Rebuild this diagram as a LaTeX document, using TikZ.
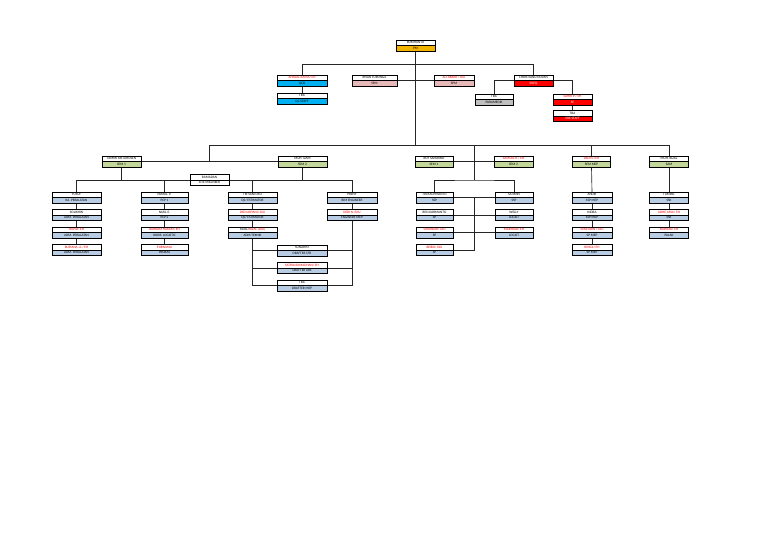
\documentclass[tikz,border=0pt]{standalone}
\usepackage{fontspec}
\setmainfont{Carlito}
\definecolor{cgold}{HTML}{F2B400}
\definecolor{ccyan}{HTML}{00B0F0}
\definecolor{cpink}{HTML}{E6B8B7}
\definecolor{cred}{HTML}{FF0000}
\definecolor{cgrey}{HTML}{BFBFBF}
\definecolor{cgreen}{HTML}{C4D79B}
\definecolor{cblue}{HTML}{B8CCE4}
\newcommand{\rd}[1]{\textcolor{cred}{#1}}
\pgfdeclarelayer{bg}
\pgfsetlayers{bg,main}
\tikzset{
  nm/.style={draw=black, line width=0.55pt, fill=white, minimum height=5.6pt,
    inner sep=0pt, outer sep=0pt, anchor=north,
    font=\fontsize{3.45}{3.8}\selectfont, text height=2.4pt, text depth=0.6pt},
  conn/.style={line width=0.65pt, draw=black!85}
}
\newcommand{\orgbox}[7]{%
  \node[nm, minimum width=#4pt] (#1) at (#2,-#3) {#5};
  \node[nm, minimum width=#4pt, fill=#7] (#1r) at (#1.south) {#6};}
\begin{document}
\begin{tikzpicture}[x=1pt,y=1pt]
\useasboundingbox (0,0) rectangle (768,-543);
% top
\orgbox{pm}{415.5}{40}{39}{ROMIYANTO}{PM}{cgold}
% level 2
\orgbox{afrizal}{302}{75}{50}{\rd{AFRIZAL RAMA/ EH}}{QCD}{ccyan}
\orgbox{qcstaff}{302}{93}{50}{TBA}{QC STAFF}{ccyan}
\orgbox{irvan}{374.5}{75}{45}{IRVAN FURONGA}{SPM}{cpink}
\orgbox{ali}{454}{75}{40}{\rd{ALI AKBAR / DIU}}{SPM}{cpink}
\orgbox{christ}{533.5}{75}{39}{CHRISTIANO NOVAN}{\textcolor{white}{SHEQ}}{cred}
\orgbox{paramedik}{494}{94}{38}{TBA}{PARAMEDIK}{cgrey}
\orgbox{sahri}{572.5}{94}{39}{\rd{SAHRI P / EH}}{\textcolor{white}{SE}}{cred}
\orgbox{shestaff}{572.5}{110.5}{39}{TBA}{\textcolor{white}{SHE STAFF}}{cred}
% level 3
\orgbox{tammi}{121.5}{156}{39}{TAMMI SIRTUHUSEN}{SEM 1}{cgreen}
\orgbox{muhizam}{302.5}{156}{49}{MUH. IZAM}{SEM 2}{cgreen}
\orgbox{roy}{434}{156}{38}{ROY SAPARINO}{SEM 1}{cgreen}
\orgbox{samuel}{513.5}{156}{39}{\rd{SAMUEL R./ EH}}{SEM 2}{cgreen}
\orgbox{dedis}{591.5}{156}{38}{\rd{DEDI S./EH}}{SEM MEP}{cgreen}
\orgbox{rizal}{669}{156}{39}{MUH. RIZAL}{SAM}{cgreen}
\orgbox{ramadan}{209.5}{174.5}{39}{RAMADAN}{SITE ENGINEER}{white}
% left column 1
\orgbox{yusuf}{76.5}{192}{49}{YUSUF}{KA. PERALATAN}{cblue}
\orgbox{solikhin}{76.5}{209.5}{49}{SOLIKHIN}{ADM. PERALATAN}{cblue}
\orgbox{hapid}{76.5}{227}{49}{\rd{HAPID/ EH}}{ADM. PERALATAN}{cblue}
\orgbox{bupiana}{76.5}{244.5}{49}{\rd{BUPIANA. A./ EH}}{ADM. PERALATAN}{cblue}
% column 2
\orgbox{pamal}{164.5}{192}{47}{PAMAL. P.}{PCP 1}{cblue}
\orgbox{nasil}{164.5}{209.5}{47}{NASIL E.}{PCP 2}{cblue}
\orgbox{bahram}{164.5}{227}{47}{\rd{BAHRAM HAKAM/ EH}}{KOOR. LOGISTIC}{cblue}
\orgbox{purnama}{164.5}{244.5}{47}{\rd{PURNAMA}}{PROBAS}{cblue}
% column 3
\orgbox{trisan}{252.5}{192}{49}{TRI SANTOSO}{QS/ ESTIMATOR}{cblue}
\orgbox{dediar}{252.5}{209.5}{49}{\rd{DEDI ARYANI/ DIU}}{QS/ ESTIMATOR}{cblue}
\orgbox{sidal}{252.5}{227}{49}{SIDAL/\rd{RIZAL (DIU)}}{ADM TEKNIK}{cblue}
% column 4
\orgbox{preny}{352}{192}{50}{PRENY}{BIM ENGINEER}{cblue}
\orgbox{dedin}{352}{209.5}{50}{\rd{DEDI N./DIU}}{ENGINEER MEP}{cblue}
% drafters
\orgbox{sunaryo}{302}{245}{50}{SUNARYO}{DRAFTER STR}{cblue}
\orgbox{satria}{302}{262.5}{50}{\rd{SATRIA RAMADHAN/ EH}}{DRAFTER ARS}{cblue}
\orgbox{tbadm}{302}{280}{50}{TBA}{DRAFTER MEP}{cblue}
% right column A
\orgbox{trirach}{434.5}{192}{37}{TRI RACHMANTO}{SSP}{cblue}
\orgbox{ben}{434.5}{209.5}{37}{BEN DARMANTO}{SP}{cblue}
\orgbox{sukandri}{434.5}{227}{37}{\rd{SUKANDRI/ DIU}}{SP}{cblue}
\orgbox{beibo}{434.5}{244.5}{37}{\rd{BEIBO/ DIU}}{SP}{cblue}
% column B
\orgbox{satimin}{514}{192}{38}{SATIMIN}{SSP}{cblue}
\orgbox{welly}{514}{209.5}{38}{WELLY}{LOGIST}{cblue}
\orgbox{mariyadi}{514}{227}{38}{\rd{MARIYADI/ EH}}{LOGIST}{cblue}
% column C
\orgbox{andik}{592}{192}{40}{ANDIK}{SSP MEP}{cblue}
\orgbox{indra}{592}{209.5}{40}{INDRA}{SSP MEP}{cblue}
\orgbox{syaif}{592}{227}{40}{\rd{SYAIFUDIN / DIU}}{SP MEP}{cblue}
\orgbox{riyadi}{592}{244.5}{40}{\rd{RIYADI/ EH}}{SP MEP}{cblue}
% column D
\orgbox{tumpal}{669}{192}{39}{TUMPAL}{SSK}{cblue}
\orgbox{adhe}{669}{209.5}{39}{\rd{ADHE ASSA/ EH}}{SSK}{cblue}
\orgbox{nawafa}{669}{227}{39}{\rd{NAWAFA/ EH}}{PALAK}{cblue}
% junctions
\coordinate (j1) at (415.5,-145);
\coordinate (l3L) at (209.5,-145);
\coordinate (l3R) at (669,-145);
\coordinate (j2) at (474.5,-145);
\coordinate (j3) at (474.5,-180);
\coordinate (barL) at (76.5,-180);
\begin{pgfonlayer}{bg}
\draw[conn] (pmr.south) -- (j1);
\draw[conn] (afrizal.north) -- ++(0,11) -| (christ.north);
\draw[conn] (irvan.south east) -- (ali.south west);
\draw[conn] (afrizalr.south) -- (qcstaff.north);
\draw[conn] (christ.south west) -| (paramedik.north);
\draw[conn] (christ.south east) -| (sahri.north);
\draw[conn] (sahrir.south) -- (shestaff.north);
\draw[conn] (l3L) -- (l3R);
\draw[conn] (l3R) -- (rizal.north);
\draw[conn] (l3L) -- (l3L |- tammi.south east);
\draw[conn] (tammi.south east) -- (muhizam.south west);
\draw[conn] (dedis.north |- l3L) -- (dedis.north);
\draw[conn] (j2) -- (j3);
\draw[conn] (roy.south east) -- (samuel.south west);
\draw[conn] (trirach.north) |- (j3) -| (satimin.north);
% left bar
\draw[conn] (yusuf.north) -- ++(0,12) -| (preny.north);
\draw[conn] (tammir.south) -- (tammir.south |- barL);
\draw[conn] (muhizamr.south) -- (muhizamr.south |- barL);
\draw[conn] (pamal.north |- barL) -- (pamal.north);
\draw[conn] (trisan.north |- barL) -- (trisan.north);
% columns
\draw[conn] (yusufr.south) -- (solikhin.north);
\draw[conn] (solikhinr.south) -- (hapid.north);
\draw[conn] (hapidr.south) -- (bupiana.north);
\draw[conn] (pamalr.south) -- (nasil.north);
\draw[conn] (nasilr.south) -- (bahram.north);
\draw[conn] (bahramr.south) -- (purnama.north);
\draw[conn] (trisanr.south) -- (dediar.north);
\draw[conn] (dediarr.south) -- (sidal.north);
\draw[conn] (prenyr.south) -- (dedin.north);
% drafters
\draw[conn] (sidalr.south) |- (tbadm.south west);
\draw[conn] (dedinr.south) |- (tbadm.south east);
\draw[conn] (sunaryo.south west -| sidalr.south) -- (sunaryo.south west);
\draw[conn] (sunaryo.south east) -- (sunaryo.south east -| dedinr.south);
\draw[conn] (satria.south west -| sidalr.south) -- (satria.south west);
\draw[conn] (satria.south east) -- (satria.south east -| dedinr.south);
% right A/B
\draw[conn] (trirach.south east -| j3) -- (beibo.south east -| j3);
\draw[conn] (trirach.south east) -- (satimin.south west);
\draw[conn] (ben.south east) -- (welly.south west);
\draw[conn] (sukandri.south east) -- (mariyadi.south west);
\draw[conn] (beibo.south east) -- (beibo.south east -| j3);
% column C, D
\draw[conn] (dedisr.south) -- (andik.north);
\draw[conn] (andikr.south) -- (indra.north);
\draw[conn] (indrar.south) -- (syaif.north);
\draw[conn] (syaifr.south) -- (riyadi.north);
\draw[conn] (rizalr.south) -- (tumpal.north);
\draw[conn] (tumpalr.south) -- (adhe.north);
\draw[conn] (adher.south) -- (nawafa.north);
\end{pgfonlayer}
\end{tikzpicture}
\end{document}
